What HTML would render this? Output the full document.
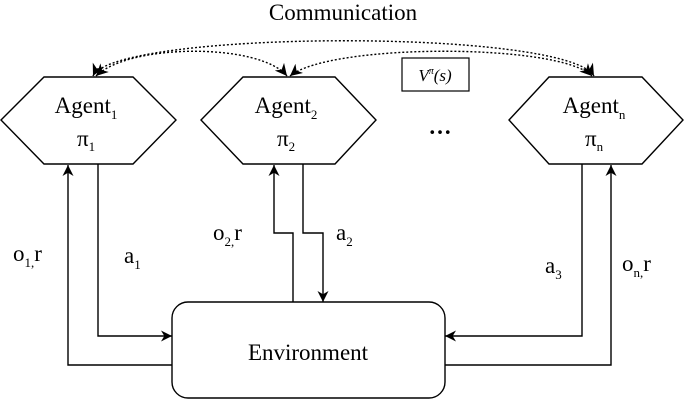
<!DOCTYPE html>
<html><head><meta charset="utf-8"><style>
html,body{margin:0;padding:0;background:#fff;}
svg{display:block;}
text{font-family:"Liberation Serif",serif;fill:#000;}
</style></head><body>
<svg width="685" height="400" viewBox="0 0 685 400" xmlns="http://www.w3.org/2000/svg">
<defs>
<marker id="ah" viewBox="0 0 10 10" refX="10" refY="5" markerWidth="13" markerHeight="11" orient="auto" markerUnits="userSpaceOnUse"><path d="M0,0 L10,5 L0,10 L3,5 z" fill="#000"/></marker>
<marker id="ah2" viewBox="0 0 10 10" refX="10" refY="5" markerWidth="13" markerHeight="12" orient="auto-start-reverse" markerUnits="userSpaceOnUse"><path d="M0,0 L10,5 L0,10 L3,5 z" fill="#000" stroke="none"/></marker>
</defs>
<text x="343" y="20" font-size="23" text-anchor="middle">Communication</text>
<g fill="none" stroke="#000" stroke-width="1.4" stroke-dasharray="2,2">
<path d="M93,76 C115,30 565,28 594,76" marker-start="url(#ah2)" marker-end="url(#ah2)"/>
<path d="M96,76 C130,43 260,43 287,76" marker-start="url(#ah2)" marker-end="url(#ah2)"/>
<path d="M290,76 C330,43 560,43 592,76" marker-start="url(#ah2)" marker-end="url(#ah2)"/>
</g>
<rect x="402" y="58" width="67" height="33" fill="#fff" stroke="#000" stroke-width="1.2"/>
<text x="435" y="81" font-size="17" font-style="italic" text-anchor="middle">V<tspan font-size="10" dy="-7">π</tspan><tspan dy="7">(s)</tspan></text>
<g fill="#fff" stroke="#000" stroke-width="1.4">
<polygon points="1,120 44,77 133,77 176,120 133,164 44,164"/>
<polygon points="201,120 243,77 335,77 376,120 335,164 243,164"/>
<polygon points="509,120 549,77 642,77 683,120 642,164 549,164"/>
<rect x="172" y="302" width="273" height="96" rx="16"/>
</g>
<g font-size="23" text-anchor="middle">
<text x="86" y="113">Agent<tspan font-size="13" dy="6">1</tspan></text>
<text x="86" y="146">π<tspan font-size="13" dy="5">1</tspan></text>
<text x="286" y="113">Agent<tspan font-size="13" dy="6">2</tspan></text>
<text x="286" y="146">π<tspan font-size="13" dy="5">2</tspan></text>
<text x="594" y="113">Agent<tspan font-size="13" dy="6">n</tspan></text>
<text x="594" y="146">π<tspan font-size="13" dy="5">n</tspan></text>
<text x="440" y="134" font-weight="bold">…</text>
<text x="308" y="360">Environment</text>
</g>
<g fill="none" stroke="#000" stroke-width="1.4">
<path d="M172,365 H68 V165" marker-end="url(#ah)"/>
<path d="M98,164 V336 H172" marker-end="url(#ah)"/>
<path d="M293,302 V233 H274 V165" marker-end="url(#ah)"/>
<path d="M303,164 V233 H323 V302" marker-end="url(#ah)"/>
<path d="M582,164 V336 H445" marker-end="url(#ah)"/>
<path d="M445,365 H611 V165" marker-end="url(#ah)"/>
</g>
<g font-size="23">
<text x="13" y="261">o<tspan font-size="13" dy="6">1,</tspan><tspan dy="-6">r</tspan></text>
<text x="124" y="263">a<tspan font-size="13" dy="6">1</tspan></text>
<text x="213" y="240">o<tspan font-size="13" dy="6">2,</tspan><tspan dy="-6">r</tspan></text>
<text x="336" y="240">a<tspan font-size="13" dy="6">2</tspan></text>
<text x="545" y="273">a<tspan font-size="13" dy="6">3</tspan></text>
<text x="622" y="271">o<tspan font-size="13" dy="6">n,</tspan><tspan dy="-6">r</tspan></text>
</g>
</svg>
</body></html>
